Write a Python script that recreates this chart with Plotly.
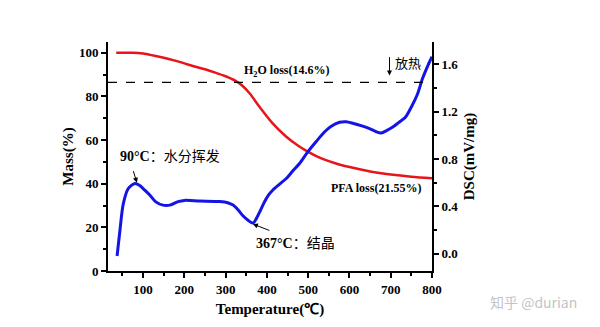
import plotly.graph_objects as go

# ---- data ----
T_mass = [35, 50, 75, 100, 125, 150, 175, 200, 225, 250, 275, 300, 325, 340, 358, 382,
          414, 447, 475, 500, 525, 550, 575, 600, 650, 700, 750, 800]
mass = [100, 100, 100, 99.6, 98.7, 97.7, 96.5, 95.1, 93.7, 92.4, 90.9, 89.2, 87.0, 85.0, 81.4, 75.2,
        67.6, 61.5, 57.5, 54.6, 52.2, 50.3, 48.8, 47.6, 45.6, 44.2, 43.2, 42.5]

T_dsc = [37, 44, 52, 64, 80, 92, 100, 115, 130, 148, 165, 185, 200, 237, 286, 305, 318,
         330, 342, 355, 366, 375, 385, 394, 405, 414, 430, 447, 463, 479, 499, 520, 540, 555,
         576, 592, 610, 630, 650, 665, 677, 690, 705, 720, 735, 750, 765, 777, 790, 800]
dsc = [-0.02, 0.20, 0.42, 0.55, 0.592, 0.575, 0.55, 0.50, 0.44, 0.41, 0.41, 0.44, 0.45, 0.445,
       0.44, 0.43, 0.41, 0.37, 0.32, 0.28, 0.258, 0.30, 0.37, 0.437, 0.50, 0.536, 0.585, 0.635,
       0.70, 0.762, 0.86, 0.95, 1.03, 1.075, 1.11, 1.115, 1.10, 1.08, 1.055, 1.03, 1.02, 1.04,
       1.07, 1.11, 1.15, 1.24, 1.35, 1.48, 1.59, 1.665]

H2O_LINE = 86.4
x_ticks = [100, 200, 300, 400, 500, 600, 700, 800]
y_ticks = [0, 20, 40, 60, 80, 100]
y2_ticks = [0.0, 0.4, 0.8, 1.2, 1.6]

SERIF = "Liberation Serif, Times New Roman, serif"
CJK = "Noto Sans CJK SC"

fig = go.Figure()
fig.add_trace(go.Scatter(x=T_mass, y=mass, mode="lines",
                         line=dict(color="#e8141c", width=2.5, shape="spline", smoothing=0.8),
                         showlegend=False, yaxis="y"))
fig.add_trace(go.Scatter(x=T_dsc, y=dsc, mode="lines",
                         line=dict(color="#1414e6", width=3, shape="spline", smoothing=0.8),
                         showlegend=False, yaxis="y2"))

fig.add_shape(type="line", xref="paper", x0=0, x1=1, yref="y", y0=H2O_LINE, y1=H2O_LINE,
              line=dict(color="black", width=1.3, dash="dash"))

tickfont = dict(family=SERIF, size=13, color="black", weight="bold")
common = dict(showline=True, linecolor="black", linewidth=2, ticks="outside", ticklen=5,
              tickwidth=1.5, tickcolor="black", showgrid=False, zeroline=False, tickfont=tickfont)

fig.update_layout(
    width=600, height=327,
    margin=dict(l=108, r=168, t=42, b=56),
    plot_bgcolor="white", paper_bgcolor="white",
    xaxis=dict(range=[15, 800], tickvals=x_ticks,
               minor=dict(ticks="outside", ticklen=3, tickcolor="black", dtick=50, tick0=0),
               title=dict(text="<b>Temperature(℃)</b>", font=dict(family=SERIF, size=15, color="black"), standoff=8),
               **common),
    yaxis=dict(range=[0, 104.9], tickvals=y_ticks,
               minor=dict(ticks="outside", ticklen=3, tickcolor="black", dtick=10, tick0=0),
               title=dict(text="<b>Mass(%)</b>", font=dict(family=SERIF, size=15, color="black"), standoff=2),
               **common),
    yaxis2=dict(range=[-0.147, 1.789], tickvals=y2_ticks, tickformat=".1f", overlaying="y", side="right",
                minor=dict(ticks="outside", ticklen=3, tickcolor="black", dtick=0.2, tick0=0),
                title=dict(text="<b>DSC(mV/mg)</b>", font=dict(family=SERIF, size=15, color="black"), standoff=6),
                **common),
)

def txt(x, y, text, yref="y", size=13, **kw):
    fig.add_annotation(x=x, y=y, xref="x", yref=yref, text=text, showarrow=False,
                       font=dict(family=SERIF, size=size, color="black"), **kw)

def arrow(x, y, ax, ay, yref="y"):
    fig.add_annotation(x=x, y=y, xref="x", yref=yref, ax=ax, ay=ay, axref="pixel", ayref="pixel",
                       text="", showarrow=True, arrowhead=2, arrowsize=1, arrowwidth=1, arrowcolor="black")

txt(164, 53, f'<b>90°C</b><span style="font-family:{CJK}">：水分挥发</span>', size=14)
arrow(85, 0.60, -4, -13, yref="y2")
txt(470, 13.3, f'<b>367°C</b><span style="font-family:{CJK}">：结晶</span>', size=14)
arrow(366, 0.25, 18, 7, yref="y2")
txt(449, 91.5, "<b>H<sub>2</sub>O loss(14.6%)</b>", size=12)
txt(664, 38, "<b>PFA loss(21.55%)</b>", size=12)
fig.add_annotation(x=697, y=89.5, xref="x", yref="y", ax=0, ay=-20, text="", showarrow=True,
                   arrowhead=2, arrowsize=1, arrowwidth=1, arrowcolor="black")
fig.add_annotation(x=741, y=95.5, xref="x", yref="y", text="放热", showarrow=False,
                   font=dict(family=CJK, size=13, color="black"))

# watermark (paper coords are relative to the plot area: 108..432 px, 42..271 px)
fig.add_annotation(x=(533 - 108) / 324, y=(271 - 302) / 229, xref="paper", yref="paper",
                   xanchor="center", yanchor="middle", text="知乎 @durian", showarrow=False,
                   font=dict(family=CJK, size=14, color="#c4c4c4"))

fig.write_html("out.html")
